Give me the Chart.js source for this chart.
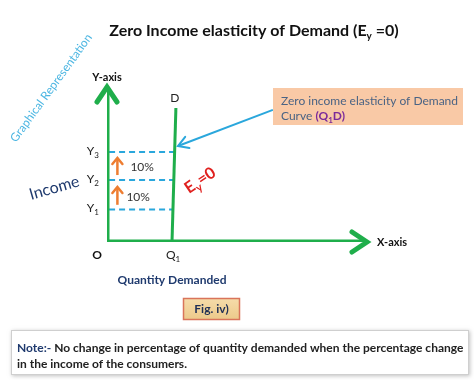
<!DOCTYPE html>
<html>
<head>
<meta charset="utf-8">
<script src="https://cdn.jsdelivr.net/npm/chart.js@4.4.1/dist/chart.umd.min.js"></script>
<style>
html,body{margin:0;padding:0;background:#fff;}
canvas{display:block;}
</style>
</head>
<body>
<canvas id="c" width="474" height="380"></canvas>
<script>
// ---- data ----
const incomeLabels = ['Y1', 'Y2', 'Y3'];
const incomeLevels = [21, 40, 58];
const demandX = [25, 26.5];          // Q1 at bottom, D at top
const demandY = [0, 86.5];
const quantityLabel = 'Q1';
const pctLabels = ['10%', '10%'];
const pctArrowX = 4;
const pctArrowFrom = [24, 43.2];
const pctArrowTo = [35.5, 54.2];
const pointerFrom = [63.8, 85.2];
const pointerTo = [27.3, 61.9];
const axisMax = 100;

const FONT = 'Lato, "Open Sans", sans-serif';
const GREEN = '#1fae4b';
const BLUE = '#2aa7dc';
const ORANGE = '#ee7d31';

function demandXAt(y) {
  const t = (y - demandY[0]) / (demandY[1] - demandY[0]);
  return demandX[0] + t * (demandX[1] - demandX[0]);
}

const datasets = [
  { label: 'axes', data: [{x: 0, y: axisMax - 1}, {x: 0, y: 0}, {x: axisMax - 1, y: 0}],
    borderColor: GREEN, borderWidth: 5, borderJoinStyle: 'miter', borderCapStyle: 'butt' },
  { label: 'demand', data: demandX.map((x, i) => ({x, y: demandY[i]})),
    borderColor: GREEN, borderWidth: 3 },
];
incomeLevels.forEach((lv) => {
  datasets.push({ label: 'inc', data: [{x: 0.8, y: lv}, {x: demandXAt(lv), y: lv}],
    borderColor: BLUE, borderWidth: 2, borderDash: [6, 4] });
});
pctArrowFrom.forEach((f, i) => {
  datasets.push({ label: 'pct', data: [{x: pctArrowX, y: f}, {x: pctArrowX, y: pctArrowTo[i]}],
    borderColor: ORANGE, borderWidth: 2.5 });
});
datasets.push({ label: 'pointer', data: [{x: pointerFrom[0], y: pointerFrom[1]}, {x: pointerTo[0], y: pointerTo[1]}],
  borderColor: BLUE, borderWidth: 2 });
datasets.forEach(d => { d.showLine = true; d.pointRadius = 0; d.tension = 0; d.fill = false; });

function drawRich(ctx, parts, x, y, align) {
  let total = 0;
  parts.forEach(p => { ctx.font = p.font; p.w = ctx.measureText(p.t).width; total += p.w; });
  let cx = align === 'center' ? x - total / 2 : align === 'right' ? x - total : x;
  ctx.textAlign = 'left';
  ctx.textBaseline = 'alphabetic';
  parts.forEach(p => {
    ctx.font = p.font; ctx.fillStyle = p.color;
    ctx.fillText(p.t, cx, y + (p.dy || 0));
    cx += p.w;
  });
}

function chevron(ctx, tipX, tipY, fromX, fromY, len, half, width, color) {
  const ang = Math.atan2(tipY - fromY, tipX - fromX);
  const bx = tipX - Math.cos(ang) * len, by = tipY - Math.sin(ang) * len;
  const px = -Math.sin(ang) * half, py = Math.cos(ang) * half;
  ctx.save();
  ctx.strokeStyle = color; ctx.lineWidth = width; ctx.lineJoin = 'miter'; ctx.lineCap = 'round';
  ctx.beginPath();
  ctx.moveTo(bx + px, by + py); ctx.lineTo(tipX, tipY); ctx.lineTo(bx - px, by - py);
  ctx.stroke();
  ctx.restore();
}

function fitSize(ctx, text, weight, target) {
  ctx.font = weight + ' 20px ' + FONT;
  return 20 * target / ctx.measureText(text).width;
}

const deco = {
  id: 'deco',
  afterDatasetsDraw(chart) {
    const ctx = chart.ctx;
    const xs = chart.scales.x, ys = chart.scales.y;
    const X = v => xs.getPixelForValue(v), Y = v => ys.getPixelForValue(v);
    ctx.save();
    // axis arrowheads
    chevron(ctx, X(0), Y(axisMax), X(0), Y(0), 15, 10, 5, GREEN);
    chevron(ctx, X(axisMax), Y(0), X(0), Y(0), 15, 10, 5, GREEN);
    // pct arrowheads
    pctArrowFrom.forEach((f, i) => chevron(ctx, X(pctArrowX), Y(pctArrowTo[i]), X(pctArrowX), Y(f), 6, 5, 2.5, ORANGE));
    // pointer arrowhead
    chevron(ctx, X(pointerTo[0]), Y(pointerTo[1]), X(pointerFrom[0]), Y(pointerFrom[1]), 10, 6, 2, BLUE);

    // title
    const tf = 'bold 16px ' + FONT;
    drawRich(ctx, [
      {t: 'Zero Income elasticity of Demand (E', font: tf, color: '#111'},
      {t: 'y', font: 'bold 10px ' + FONT, color: '#111', dy: 3},
      {t: ' =0)', font: tf, color: '#111'}
    ], 254, 36, 'center');

    // axis labels
    ctx.fillStyle = '#111'; ctx.font = 'bold 11px ' + FONT; ctx.textBaseline = 'middle';
    ctx.textAlign = 'center'; ctx.fillText('Y-axis', X(0), 77);
    ctx.textAlign = 'left'; ctx.fillText('X-axis', X(axisMax) + 10, Y(0));
    ctx.font = 'bold 12px ' + FONT; ctx.textAlign = 'center';
    ctx.fillText('O', X(0) - 10, Y(0) + 13);
    ctx.font = '12px ' + FONT; ctx.fillStyle = '#222';
    ctx.fillText('D', X(demandX[1]) - 1, Y(demandY[1]) - 10);
    drawRich(ctx, [
      {t: quantityLabel[0], font: '12px ' + FONT, color: '#222'},
      {t: quantityLabel.slice(1), font: '8px ' + FONT, color: '#222', dy: 3}
    ], X(demandX[0]) + 1, Y(0) + 17, 'center');

    // income labels
    incomeLabels.forEach((lb, i) => {
      drawRich(ctx, [
        {t: lb[0], font: '12px ' + FONT, color: '#222'},
        {t: lb.slice(1), font: '8px ' + FONT, color: '#222', dy: 3}
      ], X(0) - 8, Y(incomeLevels[i]) + 3, 'right');
    });
    // pct labels
    ctx.font = '12px ' + FONT; ctx.fillStyle = '#333'; ctx.textAlign = 'left'; ctx.textBaseline = 'middle';
    pctLabels.forEach((t, i) => {
      const mid = (pctArrowFrom[i] + pctArrowTo[i]) / 2;
      ctx.fillText(t, X(pctArrowX) + (i === 0 ? 9 : 13), Y(mid) + 1);
    });

    // Ey=0 rotated
    ctx.save();
    ctx.translate(189, 194); ctx.rotate(-34 * Math.PI / 180);
    drawRich(ctx, [
      {t: 'E', font: 'bold 16px ' + FONT, color: '#e0201e'},
      {t: 'y', font: 'bold 11px ' + FONT, color: '#e0201e', dy: 4},
      {t: '=0', font: 'bold 16px ' + FONT, color: '#e0201e'}
    ], 0, 0, 'left');
    ctx.restore();

    // Income rotated
    ctx.save();
    ctx.translate(31, 200); ctx.rotate(-16 * Math.PI / 180);
    ctx.font = '16px ' + FONT; ctx.fillStyle = '#1f3a6e'; ctx.textAlign = 'left'; ctx.textBaseline = 'alphabetic';
    ctx.fillText('Income', 0, 0);
    ctx.restore();

    // Graphical Representation rotated
    ctx.save();
    ctx.translate(16, 143); ctx.rotate(-54 * Math.PI / 180);
    const gs = fitSize(ctx, 'Graphical Representation', '', 130);
    ctx.font = gs.toFixed(1) + 'px ' + FONT; ctx.fillStyle = '#4cb6e2'; ctx.textAlign = 'left'; ctx.textBaseline = 'alphabetic';
    ctx.fillText('Graphical Representation', 0, 0);
    ctx.restore();

    // annotation box
    ctx.fillStyle = '#f9c9a6';
    ctx.fillRect(273, 88, 190, 37);
    ctx.textBaseline = 'alphabetic';
    drawRich(ctx, [{t: 'Zero income elasticity of Demand', font: '12px ' + FONT, color: '#4a6384'}], 281, 105, 'left');
    drawRich(ctx, [
      {t: 'Curve ', font: '12px ' + FONT, color: '#4a6384'},
      {t: '(Q', font: 'bold 12px ' + FONT, color: '#7b2a9a'},
      {t: '1', font: 'bold 8px ' + FONT, color: '#7b2a9a', dy: 3},
      {t: 'D)', font: 'bold 12px ' + FONT, color: '#7b2a9a'}
    ], 281, 120, 'left');

    // Quantity Demanded
    drawRich(ctx, [{t: 'Quantity Demanded', font: 'bold 12px ' + FONT, color: '#1f3a6e'}], 172, 284, 'center');

    // Fig box
    const g = ctx.createLinearGradient(0, 298, 0, 320);
    g.addColorStop(0, '#f6dcaa'); g.addColorStop(1, '#ecc98a');
    ctx.fillStyle = g; ctx.fillRect(183, 298, 57, 22);
    ctx.strokeStyle = '#d9745a'; ctx.lineWidth = 1.5; ctx.strokeRect(183.5, 298.5, 56, 21);
    drawRich(ctx, [{t: 'Fig. iv)', font: 'bold 12px ' + FONT, color: '#1f2f55'}], 211.5, 313, 'center');

    // Note box
    ctx.save();
    ctx.shadowColor = 'rgba(0,0,0,0.25)'; ctx.shadowBlur = 4; ctx.shadowOffsetX = 1; ctx.shadowOffsetY = 1;
    ctx.fillStyle = '#fff'; ctx.fillRect(11, 330, 458, 45);
    ctx.restore();
    ctx.strokeStyle = '#cfcfcf'; ctx.lineWidth = 1; ctx.strokeRect(11.5, 330.5, 457, 44);
    drawRich(ctx, [
      {t: 'Note:- ', font: 'bold 12px ' + FONT, color: '#1f3a6e'},
      {t: 'No change in percentage of quantity demanded when the percentage change', font: 'bold 12px ' + FONT, color: '#222'}
    ], 17, 352, 'left');
    drawRich(ctx, [{t: 'in the income of the consumers.', font: 'bold 12px ' + FONT, color: '#222'}], 17, 368, 'left');
    ctx.restore();
  }
};

new Chart(document.getElementById('c'), {
  type: 'scatter',
  data: { datasets },
  options: {
    responsive: false, animation: false, devicePixelRatio: 1,
    layout: { padding: { left: 107, right: 474 - 367, top: 87, bottom: 380 - 242 } },
    scales: {
      x: { type: 'linear', min: 0, max: axisMax, display: false },
      y: { type: 'linear', min: 0, max: axisMax, display: false }
    },
    plugins: { legend: { display: false }, tooltip: { enabled: false } },
    elements: { line: { borderCapStyle: 'butt' } }
  },
  plugins: [deco]
});
</script>
</body>
</html>
